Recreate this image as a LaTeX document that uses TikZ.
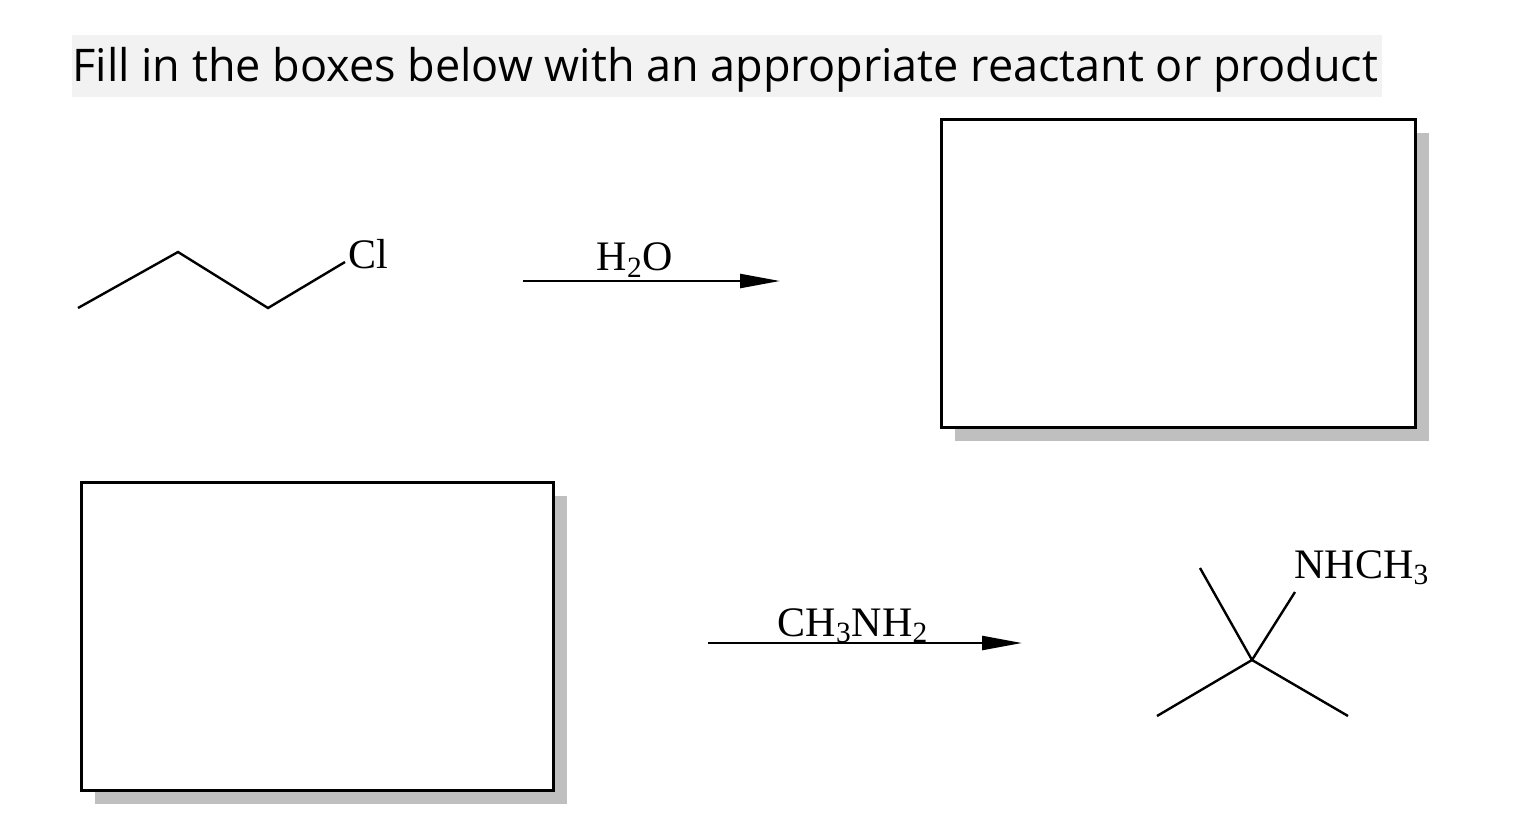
\documentclass[tikz,border=0pt]{standalone}
\usepackage{fontspec}
\setmainfont{Liberation Serif}
\newfontfamily\titlefont{Open Sans}
\usetikzlibrary{arrows.meta}
\begin{document}
\begin{tikzpicture}[x=0.5pt,y=-0.5pt,
  bond/.style={line width=1.2pt},
  ansbox/.style={draw=black,line width=1.4pt,fill=white},
  shadowbox/.style={fill=black!25,draw=none},
  rxn/.style={line width=1.2pt,-{Triangle[length=20pt,width=7pt]}},
  chem/.style={font=\fontsize{21}{21}\selectfont,inner sep=0pt}]
\useasboundingbox (0,0) rectangle (1520,820);
\fill[black!5] (72,35) rectangle (1382,97);
\node[anchor=west,inner sep=0pt,font=\titlefont\fontsize{22.5}{22.5}\selectfont] (title) at (72,70) {Fill in the boxes below with an appropriate reactant or product};
% propyl chloride
\coordinate (c1) at (78,308); \coordinate (c2) at (178,252); \coordinate (c3) at (268,308); \coordinate (c4) at (345,262);
\draw[bond] (c1)--(c2)--(c3)--(c4);
\node[chem] (cl) at (368,254) {Cl};
% arrow 1
\coordinate (a1) at (523,281); \coordinate (a2) at (780,281);
\draw[rxn] (a1)--(a2);
\node[chem] (h2o) at (635,260) {H\textsubscript{2}O};
% box 1
\fill[shadowbox] (955,133) rectangle (1429,441);
\node[ansbox,minimum width=237pt,minimum height=154pt,anchor=north west] (box1) at (940,118) {};
% box 2
\fill[shadowbox] (95,496) rectangle (567,804);
\node[ansbox,minimum width=236pt,minimum height=154pt,anchor=north west] (box2) at (80,481) {};
% arrow 2
\coordinate (b1) at (708,643); \coordinate (b2) at (1022,643);
\draw[rxn] (b1)--(b2);
\node[chem] (mna) at (853,626) {CH\textsubscript{3}NH\textsubscript{2}};
% t-butyl
\coordinate (q) at (1252,660);
\coordinate (m1) at (1200,568); \coordinate (m2) at (1295,592);
\coordinate (m3) at (1157,716); \coordinate (m4) at (1348,716);
\draw[bond] (q)--(m1); \draw[bond] (q)--(m2); \draw[bond] (q)--(m3); \draw[bond] (q)--(m4);
\node[chem] (nh) at (1362,568) {NHCH\textsubscript{3}};
\end{tikzpicture}
\end{document}
